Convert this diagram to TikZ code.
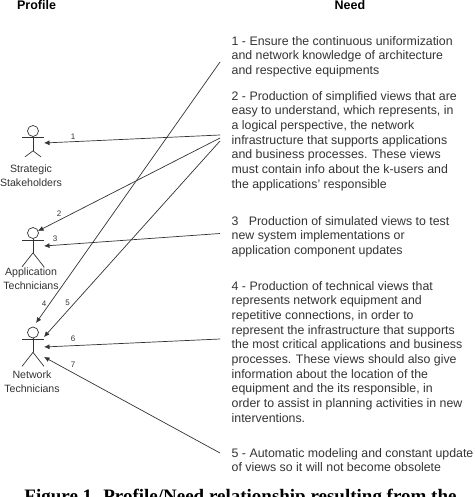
\documentclass[tikz,border=0pt]{standalone}
\usepackage{fontspec}
\setmainfont{Liberation Sans}
\newfontfamily\capfont{Liberation Serif}
\usepackage{xcolor}
\usetikzlibrary{arrows.meta}
\definecolor{inkgray}{HTML}{333333}
\newcommand{\actorfig}[5]{% name, x, y of the head, leg spread, leg drop
  \node[head,name=#1] at (#2,#3) {};
  \draw[stick] (#1.south) -- ++(0,14) coordinate (#1hip);
  \draw[stick] ([xshift=-11pt,yshift=-1pt]#1.south) -- ([xshift=11pt,yshift=-1pt]#1.south);
  \draw[stick] (#1hip) -- ++(-#4,#5);
  \draw[stick] (#1hip) -- ++(#4,#5);
}
\begin{document}
\begin{tikzpicture}[x=1pt,y=-1pt,
  head/.style={draw=inkgray,circle,fill=white,line width=0.7pt,minimum size=11pt,inner sep=0pt},
  stick/.style={draw=inkgray,line width=0.7pt},
  need/.style={anchor=north west,align=left,inner sep=0pt,text=inkgray,font=\fontsize{12.35}{14.65}\selectfont},
  who/.style={align=center,inner sep=0pt,text=inkgray,font=\fontsize{10.6}{14}\selectfont},
  title/.style={inner sep=0pt,font=\fontsize{12.5}{14}\selectfont\bfseries},
  num/.style={inner sep=0pt,text=inkgray,font=\fontsize{8}{9}\selectfont},
  arr/.style={-{Latex[length=5.5pt,width=5pt]},draw=inkgray,line width=0.7pt}]
  \useasboundingbox (0,0) rectangle (474,497);
  \clip (0,0) rectangle (474,497);
  \node[title] (profile) at (36.5,5) {Profile};
  \node[title] (needhead) at (350,5) {Need};
  % needs
  \node[need] (n1) at (231.5,36) {1 - Ensure the continuous uniformization\\and network knowledge of architecture\\and respective equipments};
  \node[need] (n2) at (231.5,91) {2 - Production of simplified views that are\\easy to understand, which represents, in\\a logical perspective, the network\\infrastructure that supports applications\\and business processes. These views\\must contain info about the k-users and\\the applications' responsible};
  \node[need] (n3) at (231.5,216) {3 \ \ Production of simulated views to test\\new system implementations or\\application component updates};
  \node[need] (n4) at (231.5,281) {4 - Production of technical views that\\represents network equipment and\\repetitive connections, in order to\\represent the infrastructure that supports\\the most critical applications and business\\processes. These views should also give\\information about the location of the\\equipment and the its responsible, in\\order to assist in planning activities in new\\interventions.};
  \node[need] (n5) at (231.5,448) {5 - Automatic modeling and constant update\\of views so it will not become obsolete};
  % profiles
  \actorfig{stake}{33}{131}{8}{6}
  \actorfig{appl}{33}{233}{11}{14}
  \actorfig{netw}{33}{332.5}{11}{14}
  \node[who] (stakelabel) at (31,176) {Strategic\\Stakeholders};
  \node[who] (appllabel) at (31,279) {Application\\Technicians};
  \node[who] (netwlabel) at (32,382) {Network\\Technicians};
  % free ends
  \coordinate (s1) at (220,135);
  \coordinate (s2) at (220,138);
  \coordinate (s3) at (220,233.5);
  \coordinate (s4) at (220,62);
  \coordinate (s5) at (220,141);
  \coordinate (s6) at (220,339);
  \coordinate (s7) at (220,453);
  \coordinate (t1) at (44,143);
  \coordinate (t2) at (38,231);
  \coordinate (t3) at (44,246);
  \coordinate (t4) at (36,323);
  \coordinate (t5) at (44,337);
  \coordinate (t6) at (44,347);
  \coordinate (t7) at (44,357);
  \foreach \k in {1,...,7} {\draw[arr] (s\k) -- (t\k);}
  \node[num] (l1) at (73,137) {1};
  \node[num] (l2) at (59,214) {2};
  \node[num] (l3) at (55,239) {3};
  \node[num] (l4) at (44,303.5) {4};
  \node[num] (l5) at (67.5,302.5) {5};
  \node[num] (l6) at (73,339) {6};
  \node[num] (l7) at (73,364.5) {7};
  \node[anchor=base,inner sep=0pt,font=\capfont\fontsize{19}{21}\selectfont\bfseries] (caption) at (240.5,502.5) {Figure 1. Profile/Need relationship resulting from the};
\end{tikzpicture}
\end{document}
